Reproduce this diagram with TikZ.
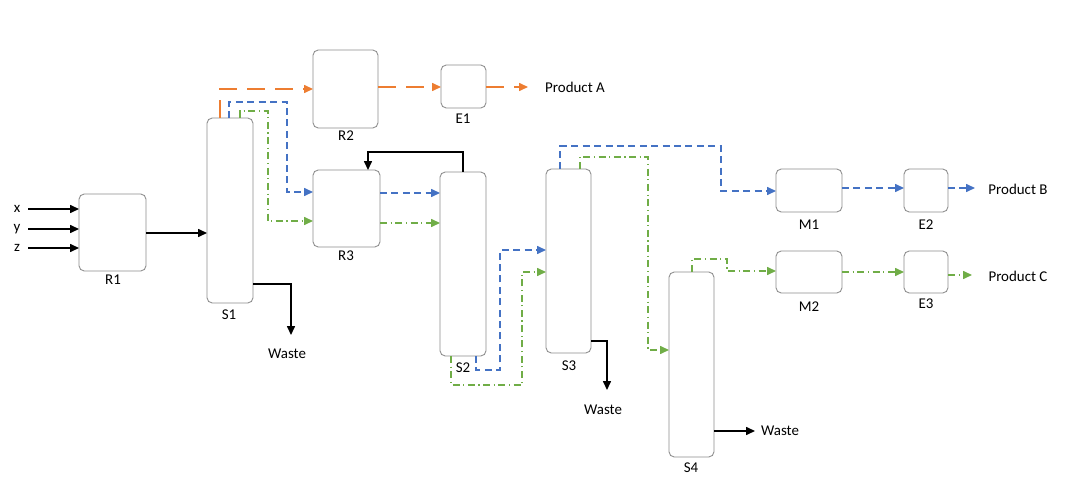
\documentclass[tikz,border=0pt]{standalone}
\usepackage{fontspec}
\setmainfont{Carlito}
\usetikzlibrary{arrows.meta}
\definecolor{cor}{RGB}{237,125,49}
\definecolor{cbl}{RGB}{68,114,196}
\definecolor{cgr}{RGB}{112,173,71}
\tikzset{
  x=0.02cm, y=-0.02cm,
  every node/.style={font=\fontsize{8.5}{10}\selectfont},
  box/.style={draw=black!45, rounded corners=3pt, line width=0.5pt, fill=white},
  lab/.style={inner sep=0pt},
  flow/.style={line width=0.7pt, -{Triangle[length=5pt,width=4.5pt]}},
  org/.style={flow, cor, dash pattern=on 10pt off 6pt},
  blu/.style={flow, cbl, dash pattern=on 4pt off 2.5pt},
  grn/.style={flow, cgr, dash pattern=on 4pt off 2pt on 0.7pt off 2pt},
  blk/.style={flow, black},
}
\newcommand{\unit}[5]{% name, x1, y1, x2, y2
  \path[box] (#2,#3) rectangle (#4,#5);
  \coordinate (#1-nw) at (#2,#3);
}
\begin{document}
\begin{tikzpicture}
\useasboundingbox (0,0) rectangle (1073,483);
% units
\foreach \n/\a/\b/\c/\d in {R1/79/194/146/271, S1/207/118/253/303, R2/313/50/378/128,
  E1/441/65/486/108, R3/313/170/380/247, S2/440/172/486/356, S3/546/169/591/353,
  S4/669/272/714/457, M1/776/169/842/212, E2/904/169/948/212, M2/776/251/842/293,
  E3/904/251/948/293}
  \path[box] (\a,\b) rectangle (\c,\d);
% labels
\node[lab] (lR1) at (113,280) {R1};
\node[lab] (lS1) at (229,315) {S1};
\node[lab] (lR2) at (346,136) {R2};
\node[lab] (lE1) at (463,119) {E1};
\node[lab] (lR3) at (346,256) {R3};
\node[lab] (lS2) at (463,368) {S2};
\node[lab] (lS3) at (569,366) {S3};
\node[lab] (lS4) at (691,468) {S4};
\node[lab] (lM1) at (809,225) {M1};
\node[lab] (lE2) at (926,225) {E2};
\node[lab] (lM2) at (809,307) {M2};
\node[lab] (lE3) at (926,304) {E3};
\node[lab] (x) at (17,209) {x};
\node[lab] (y) at (17,229) {y};
\node[lab] (z) at (17,248) {z};
\node[lab] (pa) at (575,87) {Product A};
\node[lab] (pb) at (1018,189) {Product B};
\node[lab] (pc) at (1018,276) {Product C};
\node[lab] (w1) at (287,354) {Waste};
\node[lab] (w2) at (603,410) {Waste};
\node[lab] (w3) at (780,431) {Waste};
% black flows
\draw[blk] (28,209) -- (79,209);
\draw[blk] (28,229) -- (79,229);
\draw[blk] (28,248) -- (79,248);
\draw[blk] (146,233) -- (207,233);
\draw[blk] (253,284) -| (291,335);
\draw[blk] (463,172) |- (368,152) -- (368,170);
\draw[blk] (591,341) -| (607,390);
\draw[blk] (714,431) -- (755,431);
% orange
\draw[org] (220,118) |- (313,89);
\draw[org] (378,87) -- (441,87);
\draw[org] (486,87) -- (528,87);
% blue
\draw[blu] (229,118) |- (287,102) |- (313,192);
\draw[blu] (380,193) -- (440,193);
\draw[blu] (476,356) |- (500,370) |- (546,250);
\draw[blu] (560,169) |- (721,146) |- (776,191);
\draw[blu] (842,188) -- (904,188);
\draw[blu] (948,188) -- (975,188);
% green
\draw[grn] (240,118) |- (268,111) |- (313,221);
\draw[grn] (380,223) -- (440,223);
\draw[grn] (451,356) |- (522,385) |- (546,272);
\draw[grn] (580,169) |- (648,157) |- (669,350);
\draw[grn] (692,272) |- (727,259) |- (776,271);
\draw[grn] (842,272) -- (904,272);
\draw[grn] (948,275) -- (972,275);
\end{tikzpicture}
\end{document}
